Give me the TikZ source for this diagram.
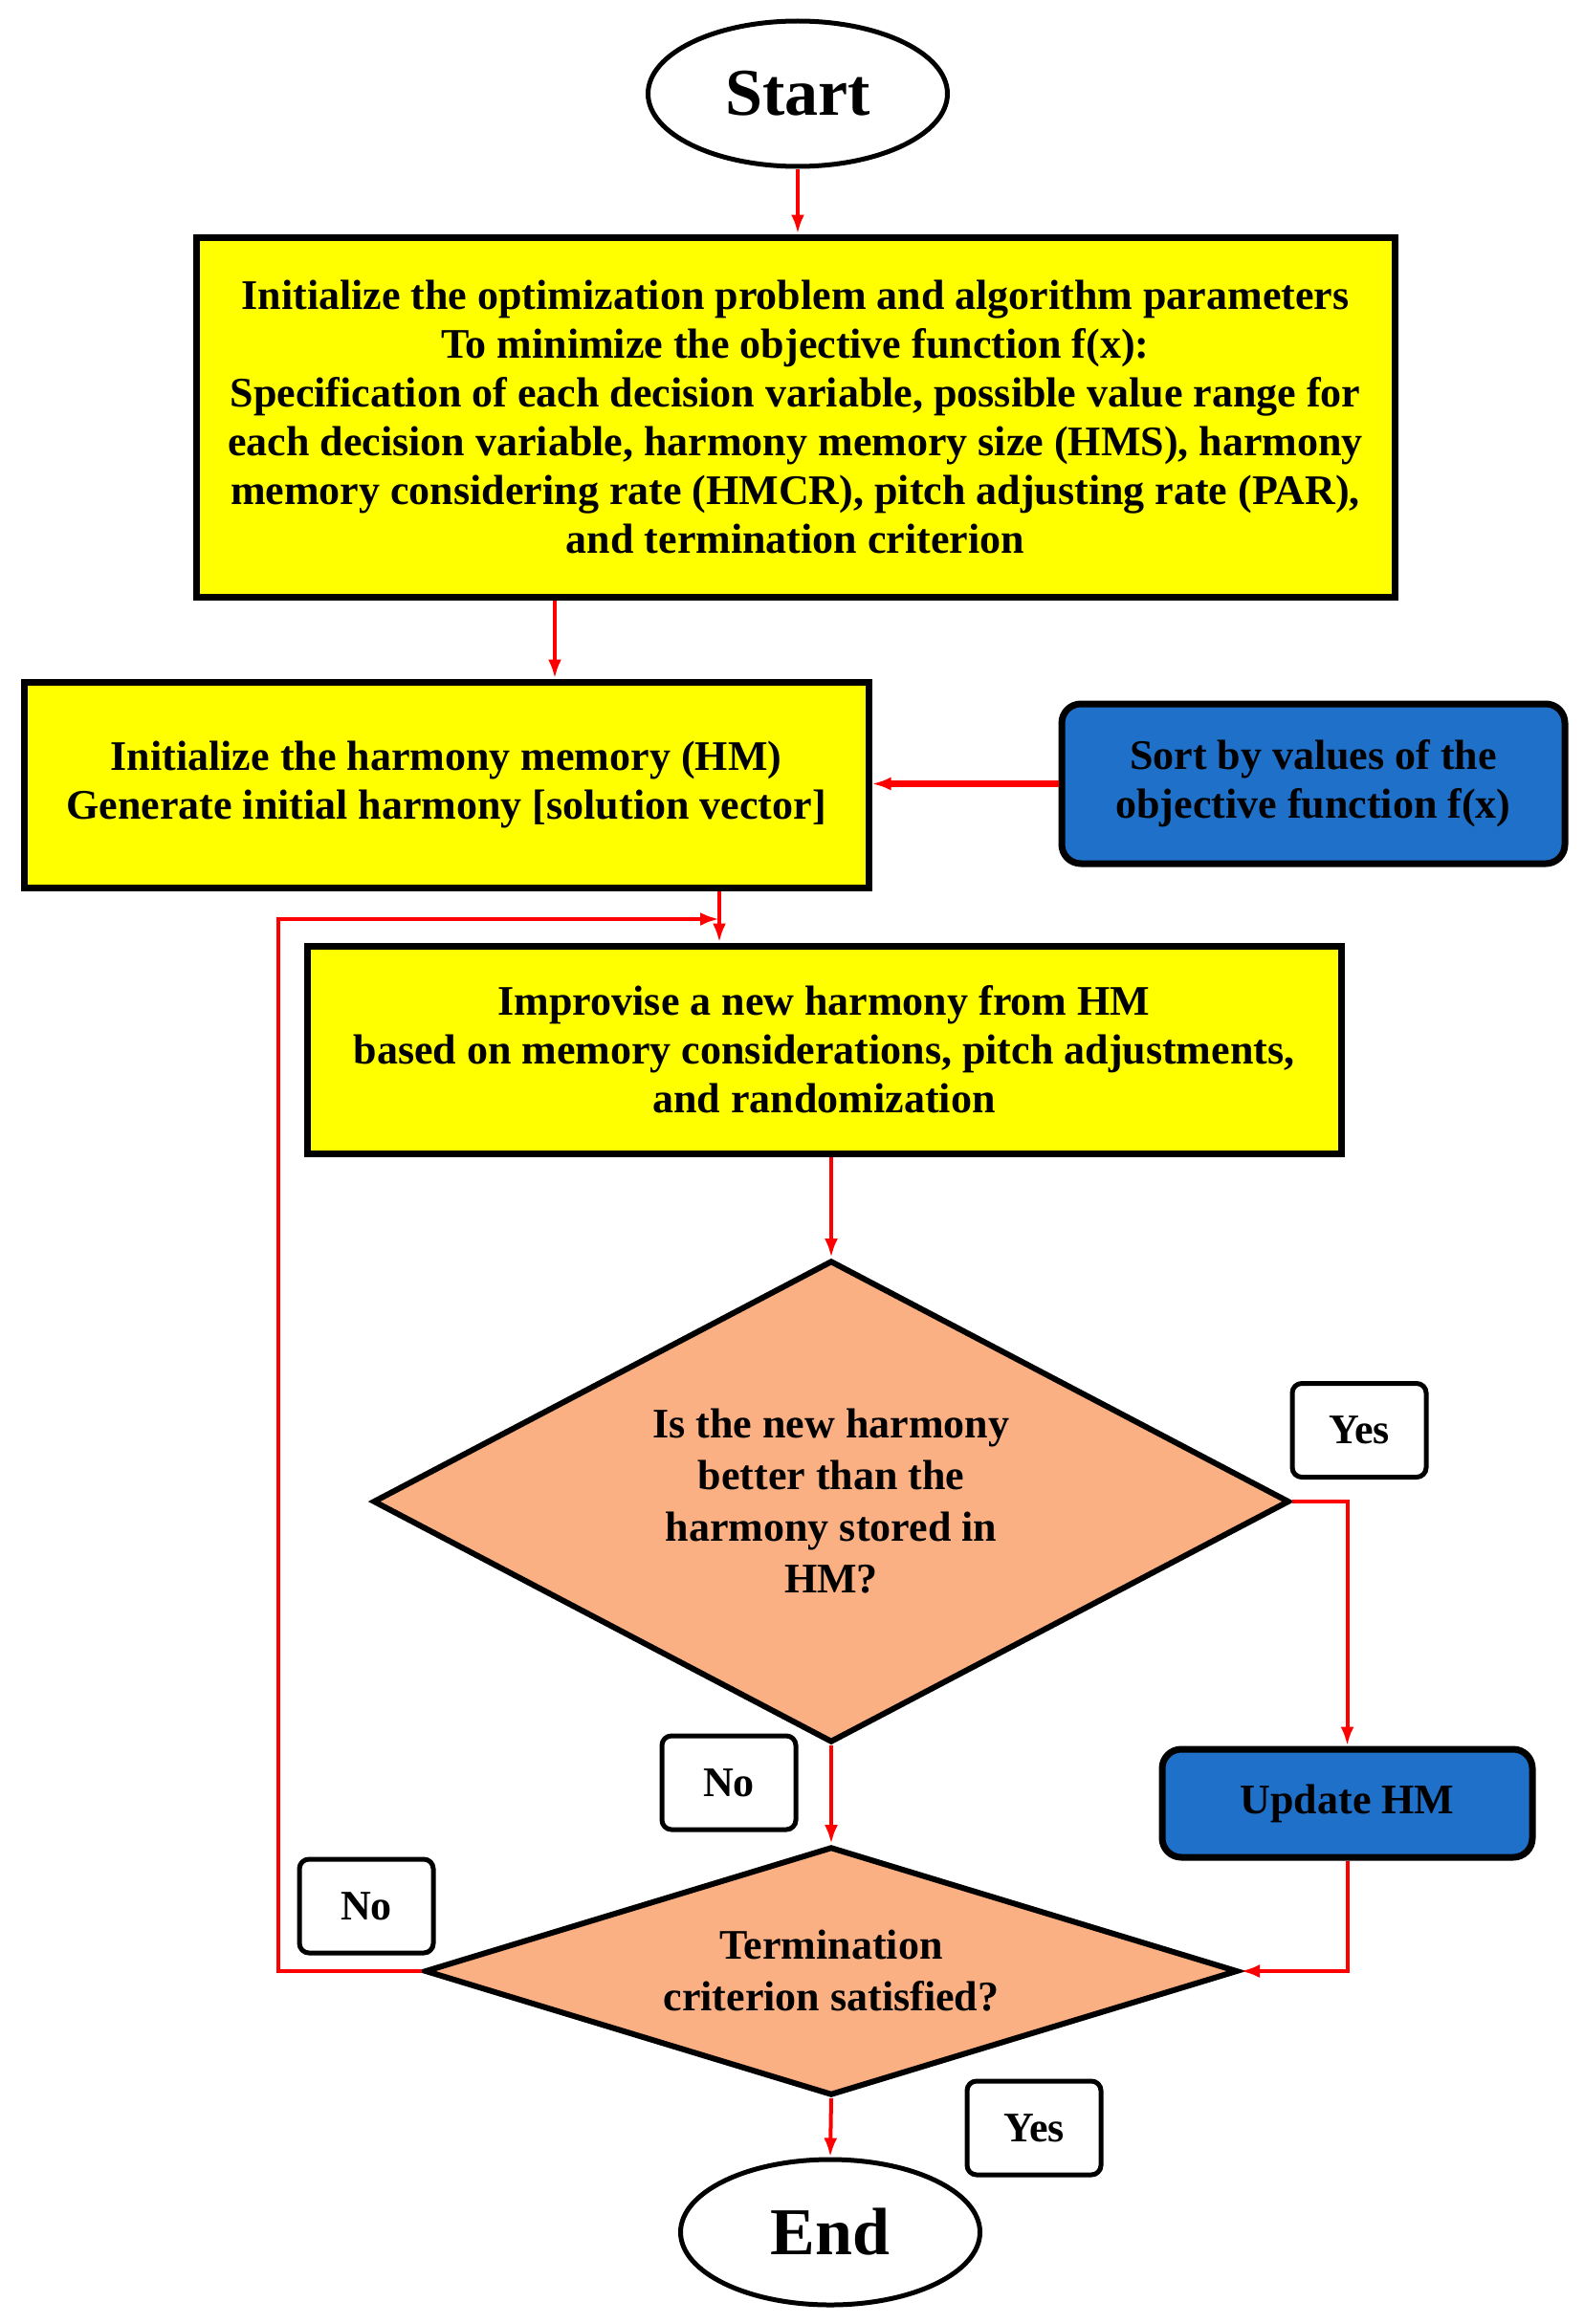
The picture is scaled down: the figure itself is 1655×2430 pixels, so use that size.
\documentclass[tikz,border=0pt]{standalone}
\usepackage{fontspec}
\setmainfont{Liberation Serif}
\usepackage{xcolor}
\usetikzlibrary{arrows.meta,positioning,shapes.geometric}
\definecolor{boxyellow}{HTML}{FFFF00}
\definecolor{sortblue}{HTML}{1E70C8}
\definecolor{condorange}{HTML}{FAB082}

\begin{document}
\begin{tikzpicture}[
    x=0.5pt,y=-0.5pt,
    font=\bfseries\fontsize{22}{25.5}\selectfont,
    box/.style={draw,line width=3.5pt,fill=boxyellow,align=center,inner sep=0pt},
    bluebox/.style={draw,line width=3.5pt,fill=sortblue,rounded corners=10pt,align=center,inner sep=0pt},
    cond/.style={draw,diamond,line width=3pt,fill=condorange,align=center,inner sep=0pt,
      font=\bfseries\fontsize{22}{27}\selectfont},
    terminal/.style={draw,ellipse,line width=2.5pt,fill=white,minimum width=156.5pt,minimum height=76pt,
      inner sep=0pt,font=\bfseries\fontsize{35}{40}\selectfont},
    tag/.style={draw,rounded corners=5pt,line width=2.5pt,fill=white,inner sep=0pt,
      minimum width=70pt,minimum height=49pt},
    arr/.style={-{Latex[length=10pt,width=7pt]},draw=red,line width=2pt}
  ]
    \useasboundingbox (0,0) rectangle (1655,2430);
    \node[terminal] (start) at (834,98) {Start};
    \node[box,minimum width=626.5pt,minimum height=188pt] (init) at (831.5,436)
      {Initialize the optimization problem and algorithm parameters\\
       To minimize the objective function f(x):\\
       Specification of each decision variable, possible value range for\\
       each decision variable, harmony memory size (HMS), harmony\\
       memory considering rate (HMCR), pitch adjusting rate (PAR),\\
       and termination criterion};
    \node[box,minimum width=441.5pt,minimum height=107.5pt] (hm) at (466.5,820.5)
      {Initialize the harmony memory (HM)\\Generate initial harmony [solution vector]};
    \node[bluebox,minimum width=263pt,minimum height=83.5pt] (sort) at (1373,819.5)
      {Sort by values of the\\objective function f(x)};
    \node[box,minimum width=540.5pt,minimum height=108.5pt] (impr) at (861.5,1097.5)
      {Improvise a new harmony from HM\\based on memory considerations, pitch adjustments,\\and randomization};
    \node[cond,minimum width=479pt,minimum height=252pt,shape aspect=1.9] (better) at (869,1570)
      {Is the new harmony\\better than the\\harmony stored in\\HM?};
    \node[bluebox,minimum width=193.5pt,minimum height=56.5pt] (upd) at (1408.5,1885.5) {Update HM};
    \node[cond,minimum width=425pt,minimum height=130pt,shape aspect=3.27] (term) at (869,2061)
      {Termination\\criterion satisfied?};
    \node[terminal] (stop) at (868,2334) {End};
    % yes / no tags
    \node[tag] (yes1) at (1421,1495.5) {Yes};
    \node[tag] (no1) at (762,1864) {No};
    \node[tag] (no2) at (383,1993) {No};
    \node[tag] (yes2) at (1081,2225) {Yes};
    % connectors
    \coordinate (ax) at (580,0);
    \coordinate (bx) at (752,0);
    \coordinate (lx) at (291,961);
    \draw[arr] (start.south) -- (start.south |- init.north);
    \draw[arr] (init.south -| ax) -- (hm.north -| ax);
    \draw[arr,line width=3.5pt] (sort.west) -- (sort.west -| hm.east);
    \draw[arr] (hm.south -| bx) -- (impr.north -| bx);
    \draw[arr] (term.west) -| (lx) -- (lx -| bx);
    \draw[arr] (impr.south -| better.north) -- (better.north);
    \draw[arr] (better.east) -| (upd.north);
    \draw[arr] (better.south) -- (term.north);
    \draw[arr] (upd.south) |- (term.east);
    \draw[arr] (term.south) -- (stop.north);
  \end{tikzpicture}
\end{document}
